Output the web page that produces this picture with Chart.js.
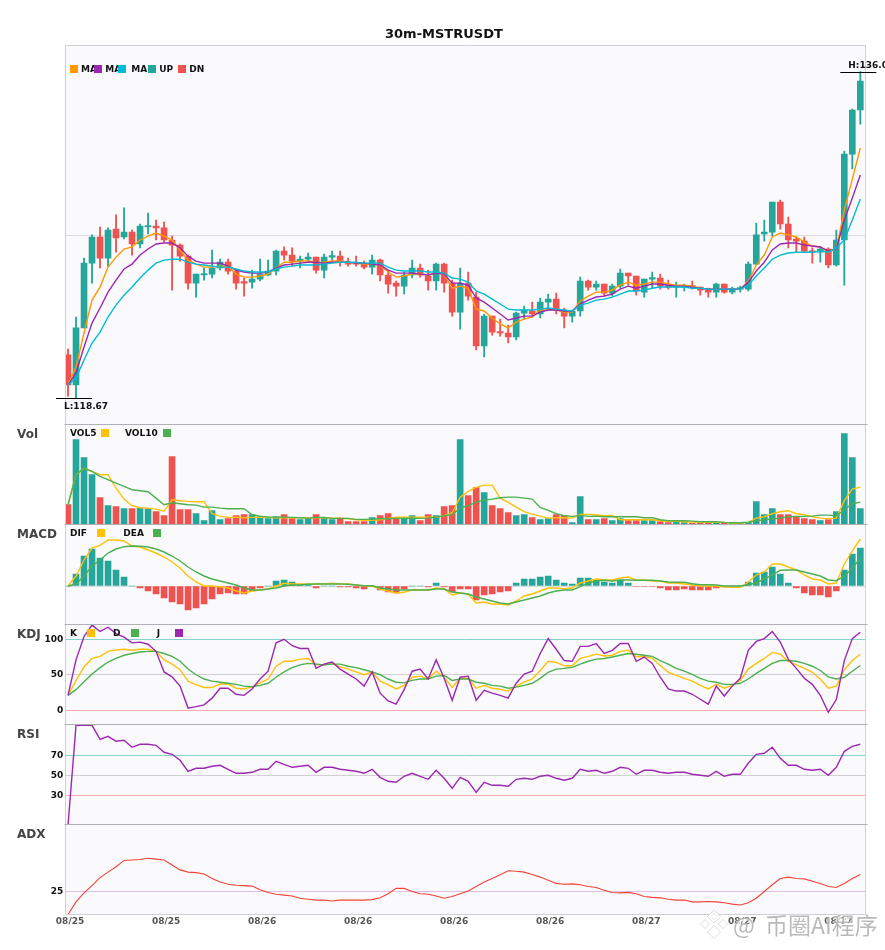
<!DOCTYPE html>
<html><head><meta charset="utf-8">
<style>
html,body{margin:0;padding:0;background:#fff;overflow:hidden}
#wrap{position:relative;width:885px;height:950px}
canvas{position:absolute;left:0;top:0}
#wm{position:absolute;left:733px;top:907px;font:23px "Noto Sans CJK SC";color:rgba(140,140,140,.6);text-shadow:0 0 2px #fff,1px 1px 1px rgba(255,255,255,.9);white-space:nowrap;word-spacing:5px}
#logo{position:absolute;left:699px;top:908px}
</style>
<script src="https://cdn.jsdelivr.net/npm/chart.js@4"></script>
</head><body><div id="wrap"><canvas id="c" width="885" height="950"></canvas>
<svg id="logo" width="30" height="32" viewBox="0 0 30 32"><g fill="#fff" stroke="#dcdcdc" stroke-width="1"><path d="M15 2l6.5 6.5-6.5 6.5-6.5-6.5z"/><path d="M6 11.500l4.500 4.500-4.500 4.500-4.500-4.500z"/><path d="M24 11.500l4.500 4.500-4.500 4.500-4.500-4.500z"/><path d="M15 17.500l6.500 6.500-6.500 6.500-6.500-6.500z"/></g><g fill="none" stroke="#e8e8e8" stroke-width="1"><path d="M15 5.500l3 3-3 3-3-3z"/></g></svg>
<div id="wm">@ 币圈AI程序</div></div>
<script>
const dateLabels=["08/25","08/25","08/26","08/26","08/26","08/26","08/27","08/27","08/27"];
const open=[120.96,119.36,122.39,125.83,127.22,126.10,127.64,127.22,127.48,126.85,127.75,127.80,127.70,127.06,126.79,126.20,124.77,125.20,125.25,125.57,125.88,125.41,124.82,124.82,124.98,125.20,125.41,126.47,126.26,125.94,126.04,126.15,125.46,126.15,126.20,125.83,125.83,125.78,125.62,125.99,125.20,124.77,124.61,125.20,125.57,125.15,124.88,125.78,124.77,123.23,124.77,124.03,121.43,123.02,122.17,122.12,121.91,123.18,123.29,123.13,123.76,123.92,123.29,123.02,123.29,124.88,124.56,124.72,124.24,124.61,125.30,125.15,124.29,124.98,125.04,124.61,124.56,124.56,124.61,124.56,124.40,124.29,124.72,124.29,124.45,124.45,125.78,127.38,127.48,129.07,127.91,127.11,127.00,126.47,126.41,126.58,125.73,127.06,131.62,133.96];
const high=[121.27,122.97,126.10,127.33,127.75,127.70,128.39,128.76,127.59,127.91,128.49,128.12,128.01,127.27,126.85,126.26,125.25,125.57,126.53,126.04,126.04,125.46,125.04,125.46,126.04,125.99,126.53,126.69,126.64,126.20,126.37,126.15,126.31,126.47,126.47,126.10,126.20,125.94,126.26,126.04,125.46,124.88,125.36,125.99,125.78,125.46,125.83,125.83,124.93,125.57,125.36,124.29,123.13,123.02,122.86,122.54,123.23,123.55,123.76,123.98,124.19,124.24,123.45,123.34,125.09,124.93,124.88,124.72,124.72,125.52,125.30,125.15,124.98,125.36,125.25,124.93,124.82,124.72,124.88,124.56,124.50,124.77,124.72,124.56,124.61,125.88,127.96,128.12,129.07,129.18,128.28,127.22,127.22,126.64,126.69,126.64,127.59,131.78,134.01,136.00];
const low=[118.77,118.67,122.39,124.77,125.57,125.67,126.41,127.11,126.26,126.64,127.38,127.06,126.95,124.40,125.94,124.45,124.03,124.93,125.04,125.46,125.25,124.45,124.08,124.50,124.88,125.15,125.20,125.99,125.67,125.57,125.88,125.30,125.04,125.99,125.67,125.67,125.67,125.52,125.25,124.88,124.24,124.08,124.19,125.04,125.09,124.40,124.40,124.29,123.02,122.33,123.87,121.22,120.85,122.01,121.96,121.59,121.75,122.86,122.97,122.92,123.45,123.13,122.39,122.70,123.02,124.40,124.40,124.08,124.08,124.50,124.66,124.13,124.03,124.50,124.45,124.45,124.03,124.35,124.45,124.13,124.03,124.03,124.24,124.19,124.29,124.35,125.73,127.00,127.27,127.64,126.64,126.41,126.41,125.83,125.88,125.57,125.67,124.66,130.83,133.21];
const close=[119.36,122.39,125.83,127.22,126.10,127.59,127.17,127.48,126.85,127.80,127.80,127.70,127.06,126.79,126.20,124.77,125.25,125.25,125.57,125.88,125.41,124.77,124.77,124.98,125.25,125.41,126.47,126.26,125.94,126.04,126.15,125.46,126.15,126.20,125.94,125.78,125.78,125.62,125.99,125.20,124.72,124.61,125.20,125.57,125.20,124.88,125.78,124.77,123.23,124.77,124.08,121.43,123.02,122.17,122.12,121.91,123.18,123.34,123.13,123.76,123.92,123.39,123.02,123.29,124.88,124.56,124.72,124.24,124.61,125.30,125.15,124.35,124.98,125.04,124.61,124.56,124.61,124.61,124.56,124.40,124.29,124.72,124.29,124.45,124.50,125.78,127.33,127.48,129.07,127.91,127.06,127.00,126.47,126.41,126.58,125.73,127.06,131.62,133.96,135.50];
const ma5=[119.36,120.32,122.12,123.87,124.56,125.62,126.15,126.58,126.69,127.06,127.27,127.43,127.27,127.06,126.53,125.99,125.78,125.62,125.62,125.67,125.67,125.25,125.09,125.09,125.15,125.25,125.57,125.88,125.88,125.94,125.94,125.88,125.88,125.94,125.94,125.88,125.83,125.78,125.78,125.73,125.36,125.09,125.15,125.25,125.25,125.20,125.30,125.25,124.50,124.61,124.50,123.39,123.29,122.92,122.60,122.39,122.70,122.86,122.97,123.34,123.34,123.34,123.23,123.23,123.82,124.08,124.29,124.29,124.40,124.66,124.82,124.66,124.72,124.82,124.82,124.72,124.66,124.66,124.61,124.50,124.45,124.45,124.45,124.45,124.45,124.88,125.73,126.26,127.22,127.43,127.33,127.22,126.95,126.74,126.69,126.41,126.58,128.65,130.29,131.94];
const ma10=[119.36,120.00,121.38,122.65,123.45,124.29,124.93,125.52,125.78,126.26,126.58,126.85,126.90,126.90,126.64,126.20,125.94,125.83,125.83,125.83,125.67,125.46,125.36,125.30,125.30,125.36,125.57,125.73,125.78,125.83,125.88,125.88,125.83,125.88,125.88,125.88,125.83,125.83,125.78,125.73,125.46,125.30,125.30,125.30,125.25,125.20,125.30,125.25,124.77,124.77,124.66,123.98,123.76,123.45,123.13,122.81,122.92,123.02,123.02,123.23,123.34,123.34,123.29,123.29,123.66,123.87,124.03,124.08,124.19,124.45,124.61,124.50,124.61,124.72,124.72,124.66,124.61,124.61,124.56,124.50,124.45,124.45,124.45,124.45,124.45,124.82,125.41,125.88,126.53,126.85,126.90,126.90,126.79,126.74,126.69,126.47,126.58,128.12,129.29,130.51];
const ma20=[119.36,119.73,120.69,121.59,122.17,122.97,123.60,124.13,124.56,125.04,125.46,125.83,125.99,126.04,126.04,125.88,125.78,125.73,125.67,125.62,125.62,125.52,125.41,125.36,125.36,125.36,125.52,125.62,125.67,125.73,125.73,125.73,125.78,125.83,125.88,125.88,125.88,125.83,125.83,125.83,125.62,125.46,125.41,125.41,125.41,125.36,125.36,125.30,125.04,124.98,124.82,124.35,124.19,123.92,123.66,123.39,123.34,123.34,123.34,123.39,123.45,123.39,123.34,123.29,123.60,123.71,123.87,123.92,124.03,124.19,124.35,124.35,124.40,124.50,124.56,124.56,124.56,124.56,124.50,124.50,124.45,124.45,124.45,124.45,124.45,124.66,125.15,125.57,126.04,126.26,126.37,126.41,126.41,126.41,126.47,126.41,126.64,127.06,128.12,129.23];
const vol=[19.7,84.7,66.7,49.7,26.7,18.7,17.7,15.7,15.7,16.3,15.7,12.7,8.7,67.7,14.7,14.7,10.7,3.7,13.7,4.7,5.7,8.7,9.7,9.7,7.7,5.7,7.7,9.7,5.7,4.7,5.7,9.7,6.7,4.7,6.3,2.7,2.7,2.7,6.7,8.7,10.7,6.7,6.7,8.7,3.7,9.7,8.7,17.7,18.7,84.7,28.7,36.7,31.7,18.7,15.7,11.7,8.7,9.7,6.7,4.7,5.7,9.7,8.7,1.7,27.7,4.7,4.7,5.7,3.7,5.7,3.7,3.7,3.7,3.7,2.7,1.7,2,1.7,1,1.7,1.3,1.7,1.3,1,1,2,22.7,9.7,15.7,9.7,9.7,7.7,5.7,4.7,3.7,4.7,12.7,90.7,66.7,15.7];
const vol5=[19.7,49.7,56,53,49.7,49.7,36.3,25.3,18.7,16.7,16.3,15.3,13.3,24.7,23.7,23,22.7,22.7,10.7,8.3,7,7.3,6.7,7,7,7,6.5,6.5,6.5,6.5,6.5,6.7,6.7,6.3,6.3,5.7,4.7,4,4,4.7,6,7.3,7.3,7.3,7.3,7.3,7,8.7,11.7,27.3,33,37,39.3,39.3,26.3,22,17.3,12.7,10.3,8.3,6.3,6.7,6.7,6.3,10,10,9.7,8.7,9,4.7,4.7,4.7,4.7,4.7,3.7,3,3,2.7,2.3,2,2,2,2,1.3,1.3,2,6.3,7.7,10.7,12.7,13.7,10.7,9.7,7.7,6.3,5.7,6.3,23.7,35.3,37.3];
const vol10=[19.7,49.7,56,53,48,44.7,41.3,38,34.7,33.7,32.7,26.3,19.7,21.7,20.7,19.7,19.3,17.3,17.3,16.3,15.7,15.7,15.7,9.7,8.3,7.3,7.3,7.3,7,6.7,6.3,7,7,6,6,6,5,5,5.3,5.7,5.7,6,6,6.3,6,6.3,7.3,8.7,9.7,16.3,18.7,22.3,24.3,25.3,26.7,27.3,27.3,26.3,25.3,17,14,10.7,8.7,8,9,8,8.3,7.7,7.7,7.7,7.7,7.7,6.7,6.7,4.7,3.7,3.7,3.7,3.3,2.7,2.7,2.7,2,1.7,1.7,2.3,3.7,4.7,5.7,6.3,7.7,8,8,8.3,9.3,9.3,8.7,14.7,20.7,22.3];
const macd=[0,.12,.30,.37,.28,.25,.16,.09,0,-.02,-.05,-.08,-.12,-.16,-.18,-.24,-.22,-.18,-.13,-.08,-.07,-.08,-.08,-.05,-.02,0,.05,.06,.04,.02,.02,-.02,0,0,-.01,-.01,-.02,-.03,0,-.04,-.06,-.07,-.03,0,0,-.01,.03,-.01,-.06,-.03,-.03,-.14,-.09,-.08,-.06,-.05,.03,.07,.07,.09,.10,.06,.03,.02,.08,.08,.06,.04,.03,.06,.03,-.005,-.005,-.005,-.02,-.04,-.04,-.03,-.04,-.04,-.04,-.02,0,0,0,.04,.13,.14,.19,.12,.03,-.02,-.07,-.09,-.09,-.11,-.05,.16,.32,.38];
const dif=[0,.10,.26,.38,.407,.46,.46,.45,.40,.39,.36,.33,.29,.24,.18,.10,.04,0,0,-.007,-.02,-.05,-.07,-.05,-.04,-.03,0,.027,.02,.02,.017,.02,.02,.027,.02,.02,.01,0,0,-.03,-.05,-.07,-.063,-.04,-.04,-.04,-.02,-.03,-.09,-.07,-.08,-.17,-.16,-.18,-.18,-.19,-.15,-.10,-.08,-.05,-.02,-.02,-.027,-.02,.03,.05,.07,.06,.06,.08,.09,.06,.057,.05,.05,.03,.03,.02,.01,0,0,0,-.01,-.013,-.013,.04,.11,.14,.22,.22,.19,.16,.11,.07,.06,.02,.03,.22,.35,.47];
const dea=[0,.02,.10,.20,.26,.33,.37,.393,.40,.397,.39,.37,.34,.30,.25,.19,.14,.10,.07,.05,.03,.01,-.02,-.04,-.04,-.03,-.02,0,.01,.01,.017,.02,.02,.02,.02,.017,.01,.003,.003,-.02,-.03,-.04,-.04,-.04,-.04,-.04,-.03,-.03,-.06,-.07,-.08,-.11,-.13,-.15,-.17,-.18,-.16,-.14,-.12,-.10,-.07,-.05,-.04,-.04,-.007,.03,.05,.057,.05,.06,.06,.057,.057,.057,.05,.04,.037,.037,.023,.013,.013,.01,0,0,0,.013,.03,.07,.11,.157,.16,.16,.14,.12,.10,.06,.053,.10,.177,.28];
const kLine=[21,42,61,73,76,83,85,86,84.5,86,86,83,71,65,57,41,36,32,32,37,37,31,30,33,38.5,44,62,69,69,72,73,64,64,66,61,58,54,50,54,41,36,30,35,46.5,48,44,55,46.5,32,45,45,31,35,31,29.5,27,34,39.5,44,56,69,67.5,62.5,63,73,76,79,76.5,77.5,83,84.5,75.5,76,73,63,53.5,49,45,41,35,30,36.5,31,35,42,58,66,73,81.5,79,69,64,59,53.5,44,31,34,57,70,79];
const dLine=[21,29,40,51,60,68,73,77.5,80,82,83,83,80,76,69,58,50,44,41,39.5,38,36.5,34,33,35,38,46.5,54,60,64,66,65,64,65,65,62,60,57,54,50,44,39.5,38.5,42,44,44,48,49,42,44,44,39.5,38,35,34,31,32.5,35,38,45,53.5,58,59,60.5,65,69,72,73,75,77.5,80,79,77.5,76,70,65,59,55,50.5,45,41,39.5,36.5,36.5,38,44,52,59,66,70,70,69,66,62,56,47,44,46.5,55,63];
const jLine=[21,71,104,120,111,117,108,103,95,96,93,83,54,47,34,3,5,7.5,17,31,31,22.5,21,30,44,55,95,100,91,87,87,59,65,68,58,51,44,34,54,24,13,8.5,29,55,58,44,71,45,14,46.5,48,14,28,24,21,17,38,51,55,80,101,86,70,69,90,90,94,80,84.5,94,94,69,75,66,46.5,30,27,27,22.5,15.5,8.5,34,20,34,45,84.5,97,101,111,96,72,59,45,36.5,21,-3,15,70,101,110];
const rsi=[0,100,100,100,86,89,84,85,78,81,81,80,73,71,65,54,57,57,59,60,56,52,52,53,56,56,64,61,58,59,60,53,58,58,56,55,54,52,56,48,44,43,49,52,49,46,55,47,37,48,44,33,43,40,40,39,46,47,46,49,50,47,45,47,56,54,55,52,54,58,57,51,55,55,53,52,53,53,51,50,49,54,49,51,51,62,71,72,78,67,60,60,56,55,56,50,58,74,79,81];
const adx=[0,14,24,32,41,47,53,60,60.5,61,62.5,61.5,60.5,55,49.5,47,46.5,45,40,36,33.5,32.5,32,31.5,27.5,24.5,22.5,21.5,20.5,18,17,16,16,15,16,16,16,16,16.5,18.5,23,29,29,25.5,23,22.5,20.5,18,20,23,26,31,36,40,44,48.5,48,47,44.5,41.5,38,34.5,33.5,34,33,31,30,27,24.5,24,24.5,23,20,19,18.5,17,16,16,14,14,14.5,14,13,11.5,10.5,13,18,25.5,33,40,41.5,40,39.5,37,34.5,31,30,34.5,40,44.5];

const UP='#26A69A',DN='#EF5350',Y='#FFC107',G='#4CAF50',P='#9C27B0',O='#FF9800',C='#00BCD4';
const idx=open.map((_,i)=>i);
const isUp=i=>close[i]>=open[i];
const candleCols=idx.map(i=>isUp(i)?UP:DN);
const line=(label,data,yAxisID,color,order,w)=>({type:'line',label,data:data.map((y,x)=>({x,y})),yAxisID,xAxisID:'x',borderColor:color,borderWidth:w||1.4,pointRadius:0,tension:0,order,fill:false});
const datasets=[
 {label:'wick',data:idx.map(i=>({x:i,y:[low[i],high[i]]})),yAxisID:'yMain',backgroundColor:candleCols,barThickness:1.2,grouped:false,order:20},
 {label:'body',data:idx.map(i=>({x:i,y:[open[i],close[i]]})),yAxisID:'yMain',backgroundColor:candleCols,barThickness:6,grouped:false,minBarLength:1.5,order:10},
 line('MA5',ma5,'yMain',O,3),line('MA10',ma10,'yMain',P,2),line('MA20',ma20,'yMain',C,1),
 {label:'VOL',data:vol.map((y,x)=>({x,y})),yAxisID:'yVol',backgroundColor:candleCols,barThickness:6,grouped:false,order:10},
 line('VOL5',vol5,'yVol',Y,2),line('VOL10',vol10,'yVol',G,1),
 {label:'MACD',data:macd.map((y,x)=>({x,y})),yAxisID:'yMacd',backgroundColor:macd.map(v=>v>=0?UP:DN),barThickness:6,grouped:false,order:10},
 line('DIF',dif,'yMacd',Y,2),line('DEA',dea,'yMacd',G,1),
 line('K',kLine,'yKdj',Y,3),line('D',dLine,'yKdj',G,2),line('J',jLine,'yKdj',P,1),
 line('RSI',rsi,'yRsi',P,1),
 line('ADX',adx,'yAdx','#F44336',1,1.1)
];
const tickFont={family:'"DejaVu Sans"',size:9,weight:'bold'};
function yScale(min,max,weight,stackWeight,ticks,showLabels,colors){
 return {type:'linear',position:'left',stack:'panes',stackWeight,weight,min,max,offset:false,
  afterBuildTicks:s=>{s.ticks=ticks.map(value=>({value}))},
  afterFit:s=>{s.width=65.3},
  border:{display:false},
  grid:{drawTicks:false,tickLength:0,lineWidth:1,color:colors},
  ticks:{display:showLabels,autoSkip:false,padding:2,color:'#111',font:tickFont,callback:v=>String(v)}};
}
const TEAL='#86d2cc',GRAY='#d0d0d4',PINK='#ffabab';
const mainMid=127.29;
const textBold=(ctx,txt,x,y,size,color)=>{ctx.font='bold '+size+'px "DejaVu Sans"';ctx.fillStyle=color;ctx.textAlign='left';ctx.textBaseline='middle';ctx.fillText(txt,x,y)};
const panes=[['Vol',435],['MACD',535],['KDJ',635],['RSI',735],['ADX',835]];
const legends=[
 {y:69,ty:69.5,text:[['MA',81],['MA',105.3],['MA',131.3],['UP',159.3],['DN',189.3]],sq:[[70,O],[94,P],[118,C],[148,UP],[178,DN]]},
 {y:433,ty:433.5,text:[['VOL5',70],['VOL10',125]],sq:[[101,Y],[163,G]]},
 {y:533,ty:533.5,text:[['DIF',70],['DEA',123.3]],sq:[[97,Y],[153,G]]},
 {y:633,ty:633.5,text:[['K',70],['D',113],['J',156.7]],sq:[[87,Y],[131,G],[175,P]]}
];
const deco={id:'deco',
 beforeDraw(ch){const a=ch.chartArea,c=ch.ctx;c.save();c.fillStyle='#fafafc';c.fillRect(a.left,a.top,a.right-a.left,a.bottom-a.top);c.restore();},
 afterDraw(ch){const c=ch.ctx,a=ch.chartArea,S=ch.scales;c.save();
  c.lineWidth=1;c.strokeStyle='#cfcfd6';c.beginPath();
  const L=Math.round(a.left)+.5,R=Math.round(a.right)-.5,T=Math.round(a.top)+.5,B=Math.round(a.bottom)-.5;
  c.moveTo(L,T);c.lineTo(R,T);c.moveTo(L,T);c.lineTo(L,B);c.moveTo(R,T);c.lineTo(R,B);c.moveTo(L,B);c.lineTo(R,B);c.stroke();
  c.strokeStyle='#b0b0b8';c.beginPath();
  ['yVol','yMacd','yKdj','yRsi','yAdx'].forEach(k=>{const y=Math.round(S[k].top)+.5;c.moveTo(L-1,y);c.lineTo(R+2,y);});c.stroke();
  textBold(c,'30m-MSTRUSDT',385,34.5,13,'#111');
  panes.forEach(p=>textBold(c,p[0],17,p[1],12,'#444'));
  legends.forEach(l=>{l.text.forEach(t=>textBold(c,t[0],t[1],l.ty,9,'#111'));l.sq.forEach(s=>{c.fillStyle=s[1];c.fillRect(s[0],l.y-4,8,8)});});
  const hi=Math.max(...high),lo=Math.min(...low),hiI=high.indexOf(hi),loI=low.indexOf(lo);
  const mark=(i,v,pre,dy)=>{const px=S.x.getPixelForValue(i),py=Math.round(S.yMain.getPixelForValue(v))+.5;c.strokeStyle='#000';c.lineWidth=1;c.beginPath();c.moveTo(px-20,py);c.lineTo(px+16,py);c.stroke();textBold(c,pre+v.toFixed(2),px-12,py+dy,9,'#111');};
  mark(hiI,hi,'H:',-6.5);mark(loI,lo,'L:',8.5);
  c.restore();}
};
new Chart(document.getElementById('c'),{type:'bar',data:{datasets},plugins:[deco],
 options:{responsive:false,animation:false,devicePixelRatio:1,parsing:true,normalized:true,
  layout:{padding:{left:0,right:19,top:45,bottom:15.5}},
  plugins:{legend:{display:false},tooltip:{enabled:false},title:{display:false}},
  scales:{
   x:{type:'linear',min:-0.34,max:99.71,offset:false,position:'bottom',
     afterBuildTicks:s=>{s.ticks=dateLabels.map((_,i)=>({value:0.25+12*i}))},
     afterFit:s=>{s.height=20},
     border:{display:false},grid:{display:false,offset:false,drawTicks:false,tickLength:0},
     ticks:{autoSkip:false,maxRotation:0,padding:2,color:'#555',font:{family:'"DejaVu Sans"',size:9,weight:'bold'},callback:v=>dateLabels[Math.round((v-0.25)/12)]}},
   yMain:yScale(117.27,137.41,6,379.4,[mainMid],false,['#dcdce0']),
   yVol:yScale(0,100,5,100,[],false,['#ddd']),
   yMacd:yScale(-.384,.616,4,100,[0],false,['#dcdce0']),
   yKdj:yScale(-20,121,3,100,[0,50,100],true,[PINK,GRAY,TEAL]),
   yRsi:yScale(.9,100.9,2,100,[30,50,70],true,[PINK,GRAY,TEAL]),
   yAdx:yScale(0,100,1,90.1,[25],true,['#e3bfe8'])
  }}});
</script></body></html>
